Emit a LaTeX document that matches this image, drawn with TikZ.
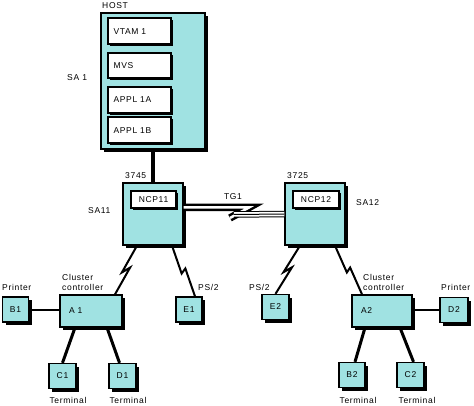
\documentclass[tikz,border=0pt]{standalone}
\usepackage{fontspec}
\setmainfont{Liberation Sans}[LetterSpace=8]
\usetikzlibrary{calc,shadows}
\definecolor{boxcyan}{RGB}{160,226,226}
\tikzset{
  cyanbox/.style={draw, line width=1.3pt, fill=boxcyan, inner sep=0pt,
    drop shadow={shadow xshift=3pt, shadow yshift=-3pt, fill=black, opacity=1}},
  whitebox/.style={draw, line width=2pt, fill=white, inner sep=0pt,
    drop shadow={shadow xshift=2pt, shadow yshift=-2pt, fill=black, opacity=1}},
  smallbox/.style={cyanbox, minimum width=26pt, minimum height=25pt, font=\fontsize{8.5}{9}\selectfont},
  lbl/.style={inner sep=0pt, font=\fontsize{8.5}{10}\selectfont},
  boxtext/.style={font=\fontsize{8.5}{9}\selectfont},
  wire/.style={line width=2pt},
  thickwire/.style={line width=3pt},
  bolt/.style={line width=2pt, line join=miter, to path={
    -- ($(\tikztostart)!0.55!(\tikztotarget)+(-3,0)$)
    -- ($(\tikztostart)!0.45!(\tikztotarget)+(3,0)$)
    -- (\tikztotarget)}}
}
\begin{document}
\begin{tikzpicture}[x=1pt,y=-1pt]
\useasboundingbox (0,0) rectangle (474,406);
% HOST
\node[cyanbox, line width=1.6pt, minimum width=104pt, minimum height=136pt] (host) at (153,81) {};
\node[whitebox, minimum width=63pt, minimum height=26pt, boxtext, text width=52pt, align=left] (vtam) at (139.5,31.5) {VTAM 1};
\node[whitebox, minimum width=63pt, minimum height=25pt, boxtext, text width=52pt, align=left] (mvs) at (139.5,65.5) {MVS};
\node[whitebox, minimum width=63pt, minimum height=26pt, boxtext, text width=52pt, align=left] (appla) at (139.5,100) {APPL 1A};
\node[whitebox, minimum width=63pt, minimum height=26pt, boxtext, text width=52pt, align=left] (applb) at (139.5,130.5) {APPL 1B};
\node[lbl, anchor=west] (hostlbl) at (102,6) {HOST};
\node[lbl, anchor=west] (sa1) at (67,78) {SA 1};
% NCP boxes
\node[cyanbox, minimum width=60pt, minimum height=62pt] (ncpA) at (153,214) {};
\node[whitebox, minimum width=45pt, minimum height=17pt, boxtext] (ncp11) at (153.5,200) {NCP11};
\node[cyanbox, minimum width=60pt, minimum height=62pt] (ncpB) at (315,214) {};
\node[whitebox, minimum width=46pt, minimum height=17pt, boxtext] (ncp12) at (316,200) {NCP12};
\node[lbl, anchor=west] (l3745) at (125,176) {3745};
\node[lbl, anchor=west] (l3725) at (287,176) {3725};
\node[lbl, anchor=west] (sa11) at (88,211) {SA11};
\node[lbl, anchor=west] (sa12) at (356,203) {SA12};
\node[lbl] (tg1) at (233,197) {TG1};
% host link
\draw[line width=4pt] (host.south) -- (host.south |- ncpA.north);
% TG1 link
\coordinate (zigA) at (249,207.5);
\coordinate (zigB) at (230,218);
\draw[line width=2.5pt, double=white, double distance=2.5pt, line join=miter]
  ($(ncpA.east)+(0,-6.5)$) -- (zigA) -- (zigB);
\draw[line width=1pt, double=white, double distance=4.5pt]
  ($(zigB)+(4,-3.5)$) -- ($(ncpB.west)+(0,0)$);
\draw[line width=1pt] ($(zigB)+(4,-3.5)$) -- ($(ncpB.west)+(0,0)$);
% left side
\node[cyanbox, minimum width=62pt, minimum height=32pt, boxtext, text width=44pt, align=left] (a1) at (91,311) {A 1};
\node[smallbox] (b1) at (15.5,309.5) {B1};
\node[smallbox] (e1) at (189,309.5) {E1};
\node[smallbox, minimum width=27pt] (c1) at (62.5,376) {C1};
\node[smallbox, minimum width=27pt] (d1) at (122.5,376) {D1};
% right side
\node[smallbox, minimum width=27pt] (e2) at (275.5,307) {E2};
\node[cyanbox, minimum width=60pt, minimum height=32pt, boxtext, text width=42pt, align=left] (a2) at (382,311) {A2};
\node[smallbox, minimum width=28pt] (d2) at (454,310) {D2};
\node[smallbox] (b2) at (352,375) {B2};
\node[smallbox, minimum width=27pt] (c2) at (410.5,375) {C2};
% labels
\node[lbl, anchor=west, align=left] (cc1) at (62,282.5) {Cluster\\controller};
\node[lbl, anchor=west, align=left] (cc2) at (363,282.5) {Cluster\\controller};
\node[lbl, anchor=west] (pr1) at (2,287) {Printer};
\node[lbl, anchor=west] (pr2) at (441,287) {Printer};
\node[lbl, anchor=west] (ps1) at (198,287) {PS/2};
\node[lbl, anchor=west] (ps2) at (249,287) {PS/2};
\node[lbl] (t1) at (68,400) {Terminal};
\node[lbl] (t2) at (128,400) {Terminal};
\node[lbl] (t3) at (358,400) {Terminal};
\node[lbl] (t4) at (417,400) {Terminal};
% bolts
\draw[bolt] ($(ncpA.south)+(-16,0)$) to ($(a1.north)+(24,0)$);
\draw[bolt] ($(ncpA.south)+(19,0)$) to ($(e1.north)+(6,0)$);
\draw[bolt] ($(ncpB.south)+(-15,0)$) to (e2.north);
\draw[bolt] ($(ncpB.south)+(20,0)$) to ($(a2.north)+(-20,0)$);
% wires
\draw[wire] (b1.east) -- (a1.west |- b1.east);
\draw[wire] (a2.east |- d2.west) -- (d2.west);
\draw[thickwire] ($(a1.south)+(-16,0)$) -- (c1.north);
\draw[thickwire] ($(a1.south)+(16,0)$) -- ($(d1.north)+(-3,0)$);
\draw[thickwire] ($(a2.south)+(-17,0)$) -- ($(b2.north)+(3,0)$);
\draw[thickwire] ($(a2.south)+(18,0)$) -- ($(c2.north)+(3,0)$);
\end{tikzpicture}
\end{document}
